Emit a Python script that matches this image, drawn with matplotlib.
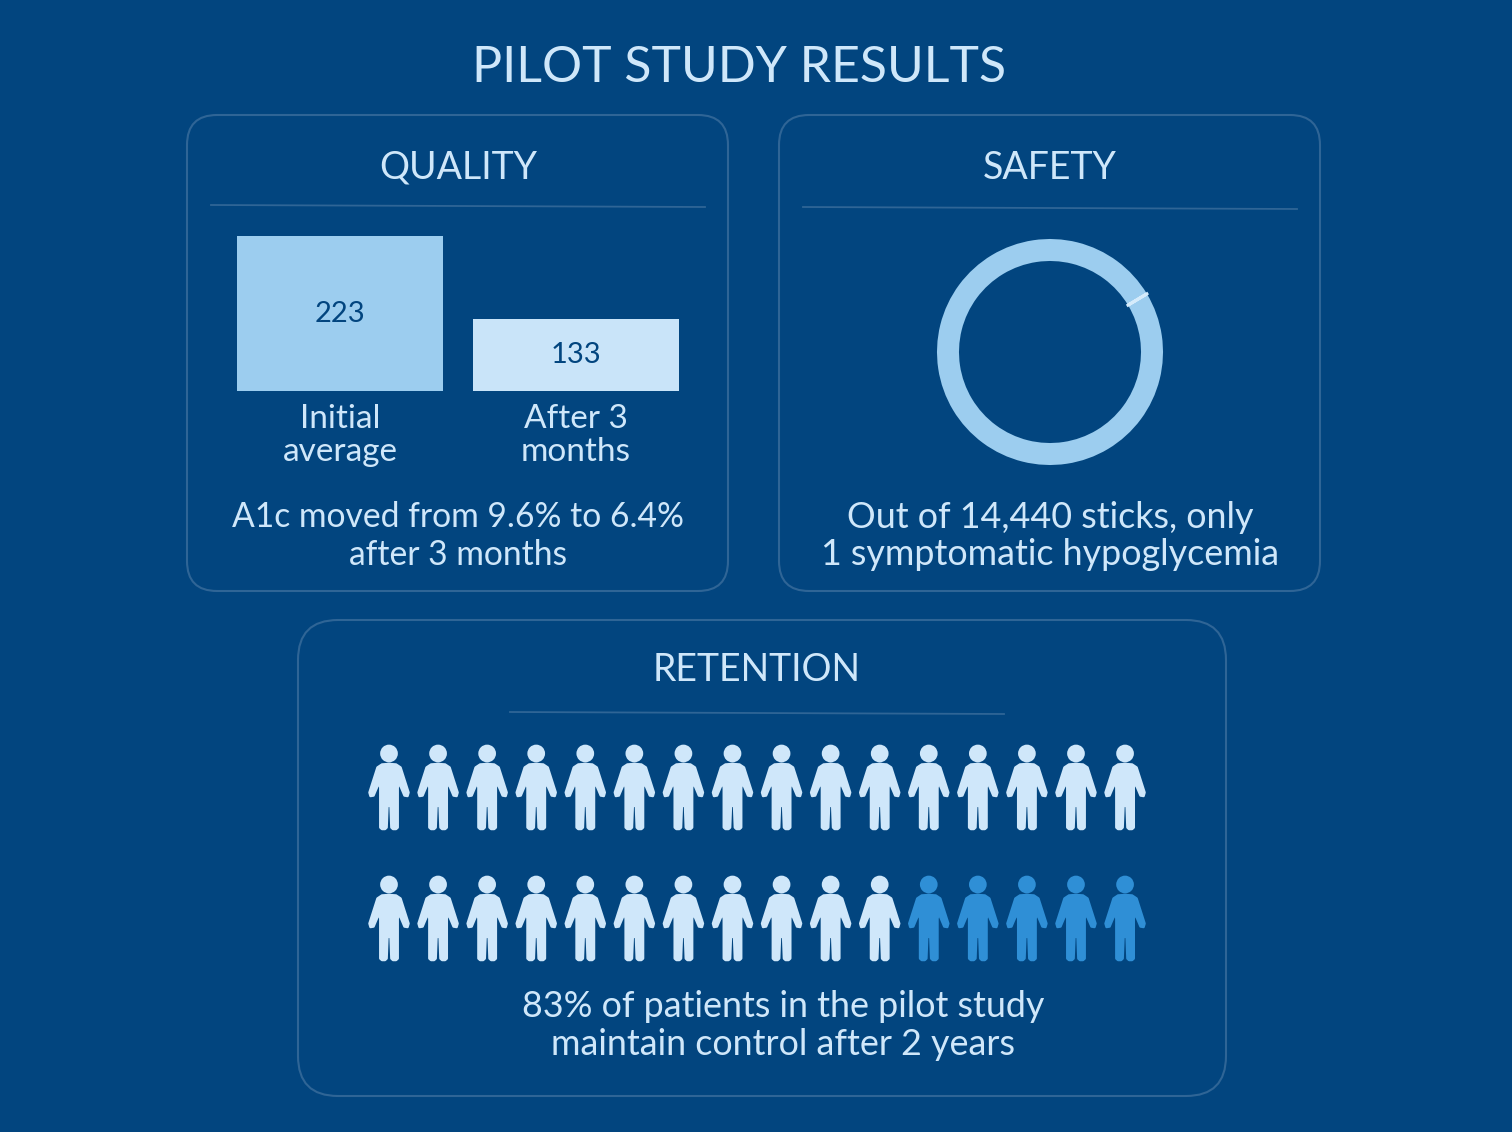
import matplotlib
matplotlib.use("Agg")
import numpy as np
import matplotlib.pyplot as plt
from matplotlib.patches import FancyBboxPatch, PathPatch
from matplotlib.path import Path
from matplotlib.transforms import Affine2D

W, H = 1512, 1132
BG = '#02457f'
BORDER = '#2f6596'
TEXT = '#cfe7fa'
DARK_TEXT = '#02457f'
BAR_COLORS = ['#9ccdef', '#c9e4f9']
RING = '#9ccdef'
TICK = '#d5ebfb'
KEPT = '#cfe7fa'
LOST = '#2f8fd6'

bar_labels = ['Initial\naverage', 'After 3\nmonths']
bar_values = [223, 133]
bar_floor = 54
sticks = [1, 14439]
people_total = 32
people_kept = 27
people_per_row = 16

plt.rcParams['font.family'] = ['Lato', 'DejaVu Sans']

fig = plt.figure(figsize=(W / 100, H / 100), dpi=100, facecolor=BG)
ax = fig.add_axes([0, 0, 1, 1])
ax.set_xlim(0, W)
ax.set_ylim(H, 0)
ax.axis('off')


def inset(x0, y0, x1, y1):
    # pixel box (from top left) to a figure axes
    a = fig.add_axes([x0 / W, 1 - y1 / H, (x1 - x0) / W, (y1 - y0) / H])
    a.patch.set_alpha(0)
    return a


def panel(x0, y0, x1, y1, r):
    ax.add_patch(FancyBboxPatch((x0 + r, y0 + r), x1 - x0 - 2 * r, y1 - y0 - 2 * r,
                                boxstyle='round,pad=%d,rounding_size=%d' % (r, r),
                                fc='none', ec=BORDER, lw=1.5))


def label(x, y, s, size, spacing=1.25, color=TEXT):
    ax.text(x, y, s, ha='center', va='center', fontsize=size, color=color,
            linespacing=spacing)


ax.text(739, 68, 'PILOT STUDY RESULTS', ha='center', va='center', fontsize=36, color=TEXT)

panel(187, 115, 728, 591, 30)
panel(779, 115, 1320, 591, 30)
panel(298, 620, 1226, 1096, 40)

ax.plot([211, 705], [205, 207], color=BORDER, lw=1.3)
ax.plot([803, 1297], [207, 209], color=BORDER, lw=1.3)
ax.plot([510, 1004], [712, 714], color=BORDER, lw=1.3)

label(458, 168, 'QUALITY', 27)
label(1050, 168, 'SAFETY', 27)
label(757, 670, 'RETENTION', 27)

# quality bars
bar_ax = inset(237, 236, 679, 391)
pos = np.arange(len(bar_values))
bars = bar_ax.bar(pos, bar_values, width=0.875, color=BAR_COLORS)
bar_ax.bar_label(bars, label_type='center', color=DARK_TEXT, fontsize=21)
bar_ax.set_xlim(-0.4375, 1.4375)
bar_ax.set_ylim(bar_floor, max(bar_values))
bar_ax.set_xticks(pos)
bar_ax.set_xticklabels(bar_labels, fontsize=24, color=TEXT, linespacing=1.14)
bar_ax.set_yticks([])
bar_ax.tick_params(axis='x', length=0, pad=9)
for s in bar_ax.spines.values():
    s.set_visible(False)

label(458, 536, 'A1c moved from 9.6% to 6.4%\nafter 3 months', 24.2, 1.24)

# safety ring
ring_ax = inset(937, 239, 1163, 465)
wedges, _ = ring_ax.pie(sticks, startangle=31, counterclock=False, radius=1,
                        colors=[TICK, RING], wedgeprops={'width': 22 / 113})
wedges[0].set_edgecolor(TICK)
wedges[0].set_linewidth(2.2)
wedges[0].set_zorder(5)
ring_ax.set_xlim(-1, 1)
ring_ax.set_ylim(-1, 1)

label(1050, 536, 'Out of 14,440 sticks, only\n1 symptomatic hypoglycemia', 25.8, 1.17)

# retention people, half outline in px from the figure's centre line and head centre
half = [(0, 10.5), (7, 11), (11.5, 14), (19.5, 39), (18.5, 42.5), (15.5, 42), (10, 29),
        (8.7, 34), (8.7, 74), (7, 75.5), (4, 75.5), (2.4, 74), (1.6, 53), (0, 52)]
outline = half + [(-x, y) for x, y in half[-2:0:-1]] + [(0, 10.5)]
codes = [Path.MOVETO] + [Path.LINETO] * (len(outline) - 2) + [Path.CLOSEPOLY]
body = Path(outline, codes)
person = Path.make_compound_path(Path.circle((0, 0), 7.6), body)

xs = 389 + 49.07 * (np.arange(people_total) % people_per_row)
ys = 753.5 + 131 * (np.arange(people_total) // people_per_row)
for i in range(people_total):
    c = KEPT if i < people_kept else LOST
    ax.add_patch(PathPatch(person.transformed(Affine2D().translate(xs[i], ys[i])),
                           fc=c, ec=c, lw=1.8, joinstyle='round'))

label(783, 1025.5, "83% of patients in the pilot study\nmaintain control after 2 years", 25.8, 1.17)

fig.savefig('out.png', dpi=100, facecolor=BG)
